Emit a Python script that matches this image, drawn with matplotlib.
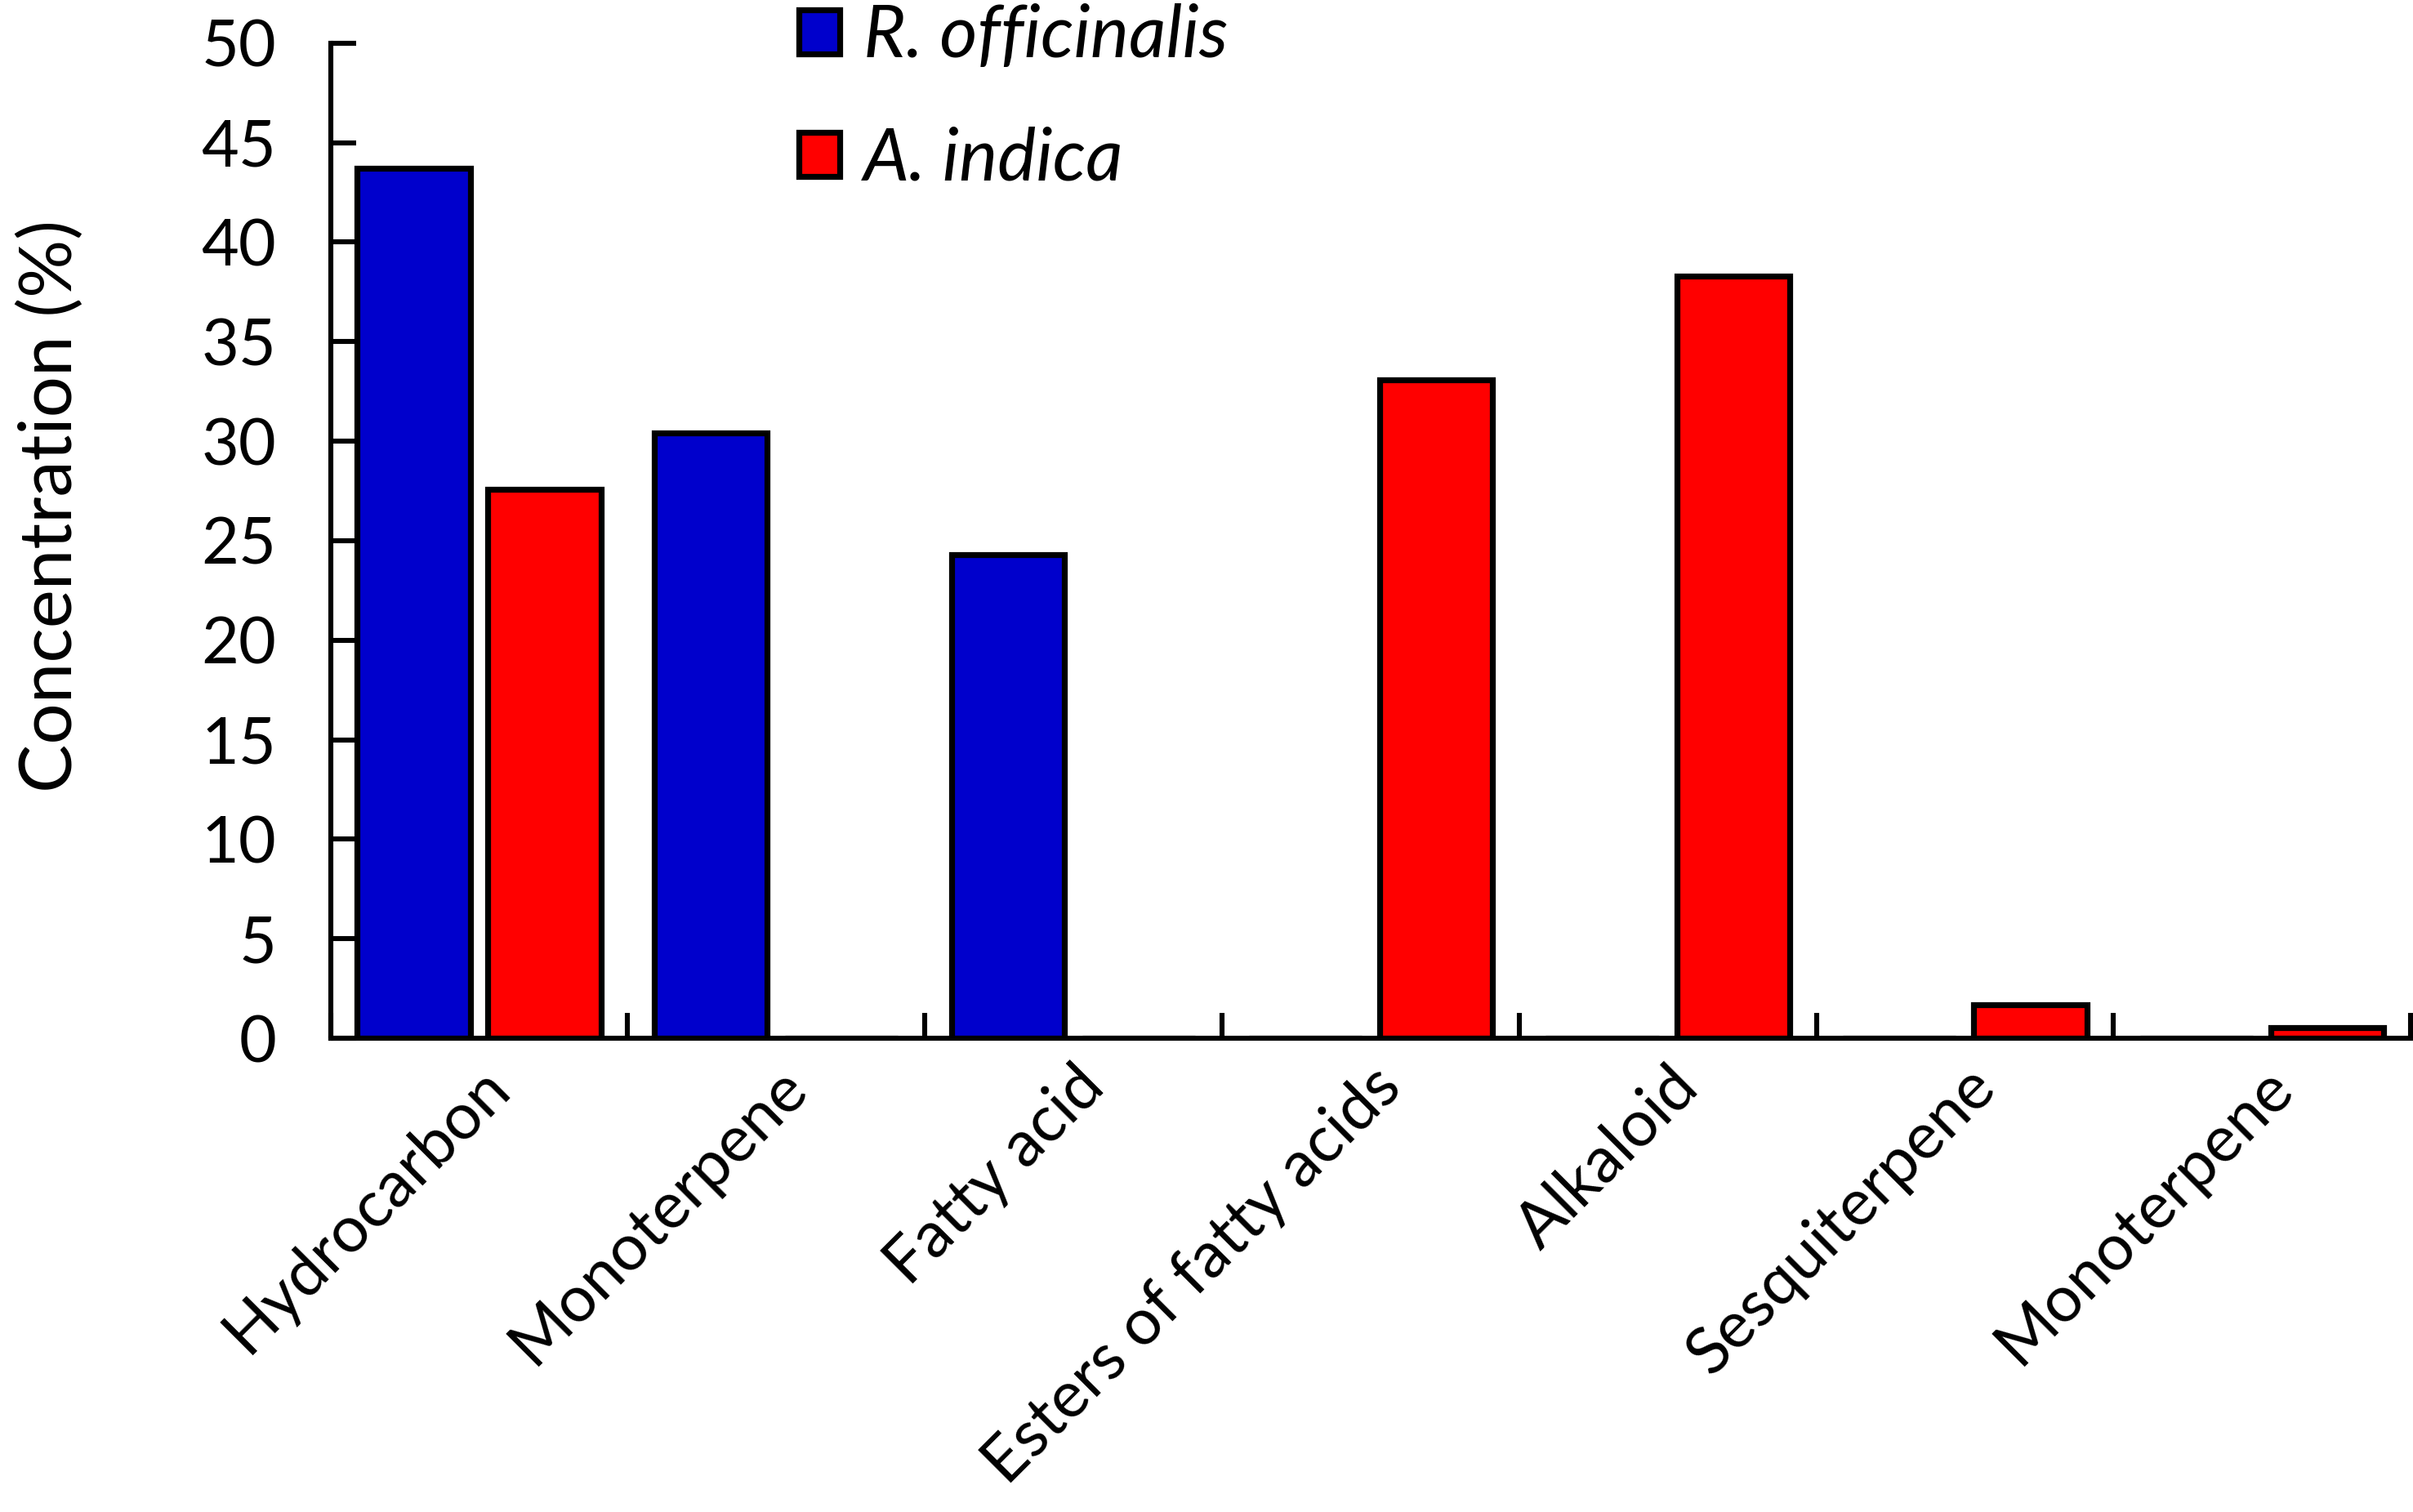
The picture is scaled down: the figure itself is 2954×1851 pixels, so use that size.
import matplotlib.pyplot as plt
import numpy as np

categories = ["Hydrocarbon", "Monoterpene", "Fatty acid", "Esters of fatty acids",
              "Alkaloid", "Sesquiterpene", "Monoterpene"]
r_officinalis = [43.7, 30.4, 24.3, 0, 0, 0, 0]
a_indica = [27.6, 0, 0, 33.1, 38.3, 1.7, 0.55]
series_names = ["R. officinalis", "A. indica"]

plt.rcParams["font.family"] = ["Lato", "DejaVu Sans"]

fig = plt.figure(figsize=(14.77, 9.255), dpi=200)
ax = fig.add_axes([0.137, 0.3133, 0.862, 0.6582])

x = np.arange(len(categories))
w = 0.38
off = 0.22
ax.bar(x - off, r_officinalis, width=w, color="#0000CC", edgecolor="black",
       linewidth=2.6, label=series_names[0], zorder=3)
ax.bar(x + off, a_indica, width=w, color="#FF0000", edgecolor="black",
       linewidth=2.6, label=series_names[1], zorder=3)

ax.set_xlim(-0.5, len(categories) - 0.5)
ax.set_ylim(0, 50)
ax.set_yticks(np.arange(0, 51, 5))
ax.tick_params(axis="y", direction="in", length=11, width=2.2, labelsize=28.5, pad=24)
for s in ["top", "right"]:
    ax.spines[s].set_visible(False)
ax.spines["left"].set_linewidth(2.2)
ax.spines["bottom"].set_linewidth(2.2)
ax.spines["left"].set_zorder(4)
ax.spines["bottom"].set_zorder(4)

# category separators as minor ticks
ax.set_xticks(np.arange(-0.5, len(categories), 1.0), minor=True)
ax.tick_params(axis="x", which="minor", direction="in", length=11, width=2.2)
ax.set_xticks(x)
ax.set_xticklabels(categories, rotation=45, ha="right", va="top",
                   rotation_mode="anchor", fontsize=28.5)
ax.tick_params(axis="x", which="major", length=0, pad=8)
for lbl in ax.get_xticklabels():
    lbl.set_x(lbl.get_position()[0] + 0.1)

ax.set_ylabel("Concentration (%)", fontsize=32)
ax.yaxis.set_label_coords(-0.118, 0.535)

leg = fig.legend(loc="upper left", bbox_to_anchor=(0.304, 1.041), frameon=False,
                 prop={"style": "italic", "size": 32},
                 handlelength=0.56, handleheight=0.56, handletextpad=0.33,
                 labelspacing=0.78)
for h in leg.legend_handles:
    h.set_linewidth(2.6)

fig.savefig("out.png", dpi=200)
